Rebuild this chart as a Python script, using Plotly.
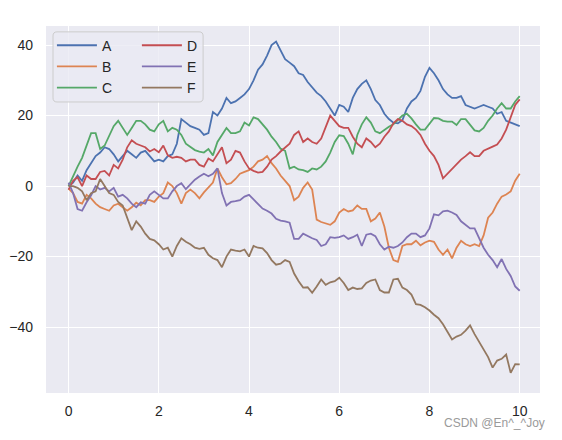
import plotly.graph_objects as go

x = [i / 10 for i in range(101)]

A = [0, 1, 3, 1.5, 4.5, 6.5, 8.5, 9.5, 11, 10.5,
     9, 7, 8.5, 10, 9, 8, 9.5, 10, 8.5, 7,
     7.5, 7, 8.5, 9, 12, 19, 18, 17, 16.5, 16,
     14.5, 15, 21, 20, 22, 25, 23.5, 24, 25, 26,
     27.5, 30, 33, 34.5, 37, 40, 41, 38.5, 36, 35,
     34, 32, 31.5, 29.5, 28, 26.5, 25.5, 24, 22, 20,
     23, 22.5, 21, 25, 27.5, 29, 30, 27.5, 24.4, 23,
     20.5, 19, 18, 17.8, 18.7, 22, 24, 25, 27, 31,
     33.5, 32, 30, 27.5, 26, 25, 25, 25.5, 23, 22.5,
     22, 22.5, 23, 22.5, 22, 20.5, 21, 18.5, 18, 17.5,
     17]
B = [-0.7, -2, -4.5, -5, -2.5, -3.5, -5, -6, -6.5, -7,
     -5.5, -5, -6, -7, -6, -4.7, -5.5, -4, -4, -4.5,
     -3, -2, 1, 0, -2, -5, -2, -1, -2, -3.5,
     -1.8, -0.3, 1, 5, 2.5, 0.5, 0.8, 2, 3.5, 4,
     4.5, 5.5, 7, 7.5, 8.5, 6.5, 5, 3, 1.5, 0,
     -4, -3, -0.5, 1, -1, -9.5, -10.2, -10.5, -11, -10,
     -7.5, -6.5, -7.2, -6.9, -5.5, -6.5, -6.5, -10, -9.2, -7.5,
     -11.5, -17.5, -21, -21.5, -17, -16.5, -16.5, -15.5, -16.8, -16,
     -15.5, -15.8, -18, -19.5, -18, -20.5, -17.5, -15.5, -16.5, -17,
     -16.5, -17, -14, -9, -7.5, -5, -3, -2.4, -1.5, 1.5,
     3.5]
C = [0, 3, 5.5, 8, 11.5, 15, 15, 10.5, 11.5, 14.5,
     17, 18.5, 16.5, 14.5, 16.5, 18.5, 18.5, 17.5, 16, 15.5,
     17.5, 18.5, 15.5, 16.5, 16, 14.5, 12, 11, 10.2, 9.8,
     9.5, 10.5, 8.7, 12.5, 14.4, 16.5, 15, 15, 15.5, 18,
     17.2, 19.5, 19, 17.5, 16, 14, 12.5, 10.6, 10, 5,
     5.5, 4.7, 4.5, 4, 5, 4.7, 5.5, 7, 9.5, 12.5,
     14.4, 14.2, 12, 9, 14.5, 17.5, 19.5, 18, 15.5, 15,
     16, 16.8, 17.5, 18.7, 20, 20.5, 19.2, 17.5, 16, 16,
     17.5, 19.3, 19.2, 18.5, 18.3, 18.3, 17.3, 19, 19, 17.5,
     15.8, 15.5, 16.5, 18.5, 20, 22, 23.5, 22, 22, 24,
     25.5]
D = [-1, 1.5, 2.5, 0, 3, 2, 2, 4, 4.3, 3,
     6, 5, 7.5, 11, 13, 12, 11.5, 11, 9.8, 10.5,
     9.6, 11.5, 8.7, 8, 8.3, 8, 7, 7.5, 7.5, 6,
     5.5, 7.8, 7, 9, 11, 6.5, 7.5, 10, 9.5, 7,
     5, 4.3, 3.8, 4, 5.5, 7.5, 8.5, 9.8, 11, 12,
     14.5, 15.5, 12.5, 13.5, 12.5, 12, 13.5, 16.5, 20, 18.5,
     17, 16.5, 16.5, 14, 12, 11, 13.5, 12.5, 11, 12,
     14, 15.5, 17.8, 19, 18.5, 17.5, 17, 16, 14.5, 12,
     10, 8.5, 6, 2.2, 3.5, 5, 6, 7.5, 8.5, 9.6,
     8.5, 8.5, 10, 10.5, 11.2, 11.8, 13.5, 16, 19.5, 23,
     24.6]
E = [1, -2, -6.5, -7, -4.6, -2.6, 0, -1, -0.5, -1.5,
     -0.5, -3, -2.5, -3.5, -5, -6, -4.6, -5, -2.5, -1.5,
     -2.5, -3.5, -3.5, -1.5, 0, 0.8, -0.9, 0.5, 1.8, 2.7,
     3.5, 2.8, 3.5, 5, -2, -5.5, -4.5, -4.3, -4, -3,
     -2.5, -3.8, -5.2, -6.4, -7, -7.8, -9.3, -9.8, -10, -10.4,
     -15, -15, -13.5, -14.2, -14.8, -15.3, -17, -16.5, -14.5, -14.7,
     -14.5, -14, -15, -14.5, -13.8, -17, -13.8, -13.5, -14.2, -16.5,
     -18, -17.2, -17.5, -17, -16, -14.5, -13.5, -13.5, -14.5, -14,
     -12, -8, -8.3, -7.2, -7, -7.5, -8.2, -10, -11, -12,
     -12, -15, -17.5, -19.5, -21, -23, -20.7, -23.5, -25.5, -28.5,
     -29.7]
F = [0, 0, -0.5, -1.5, -4, -2, -1.5, 2, 0, -2,
     -2.5, -4.5, -5.5, -9, -12.5, -10, -11.5, -13.5, -15, -15.4,
     -16.5, -18, -17.5, -20, -17, -14.8, -15.8, -16.5, -17.5, -17.8,
     -17.5, -19.5, -20.5, -21, -23, -20, -18, -18.3, -18.5, -18,
     -20, -17, -17.5, -17.7, -19, -21, -22.3, -22, -21, -21.5,
     -24.8, -27, -28.8, -28.7, -30.3, -28.5, -26.5, -28, -27.3, -27,
     -26, -27.5, -29.5, -28.8, -29.2, -29, -27.5, -26.8, -26.5, -29.5,
     -30.2, -30.2, -26.5, -26.3, -28.8, -29.5, -30.8, -33.5, -33.7, -34.4,
     -35.3, -36.5, -37.5, -39.2, -41.5, -43.5, -42.7, -42.2, -41, -39.5,
     -42, -44.2, -46, -48.5, -51.5, -49.5, -49, -47.8, -53, -50.5,
     -50.6]

names = ["A", "B", "C", "D", "E", "F"]
series = [A, B, C, D, E, F]
colors = ["#4C72B0", "#DD8452", "#55A868", "#C44E52", "#8172B3", "#937860"]
legends = ["legend", "legend", "legend", "legend2", "legend2", "legend2"]
xticks = [0, 2, 4, 6, 8, 10]
yticks = [-40, -20, 0, 20, 40]

fig = go.Figure()
for n, s, c, lg in zip(names, series, colors, legends):
    fig.add_trace(go.Scatter(x=x, y=s, name=n, mode="lines",
                             line=dict(color=c, width=1.8), legend=lg))

FONT = "Liberation Sans, Arial, sans-serif"
leg_common = dict(bgcolor="rgba(0,0,0,0)", borderwidth=0, xanchor="left", yanchor="top",
                  font=dict(family=FONT, size=14, color="#262626"), tracegroupgap=0,
                  itemwidth=40)

# rounded legend frame (paper coords of plot area)
x0, x1, y0, y1 = 0.0142, 0.318, 0.793, 0.984
rx, ry = 0.008, 0.011
path = (f"M{x0+rx},{y0} L{x1-rx},{y0} Q{x1},{y0} {x1},{y0+ry} L{x1},{y1-ry} "
        f"Q{x1},{y1} {x1-rx},{y1} L{x0+rx},{y1} Q{x0},{y1} {x0},{y1-ry} "
        f"L{x0},{y0+ry} Q{x0},{y0} {x0+rx},{y0} Z")

fig.update_layout(
    width=554, height=432,
    margin=dict(l=38, r=22, t=18, b=47, autoexpand=False),
    paper_bgcolor="white", plot_bgcolor="#EAEAF2",
    font=dict(family=FONT, size=14, color="#262626"),
    showlegend=True,
    legend=dict(x=0.012, y=0.99, **leg_common),
    legend2=dict(x=0.184, y=0.99, **leg_common),
    shapes=[dict(type="path", xref="paper", yref="paper", path=path,
                 line=dict(color="#CCCCCC", width=1),
                 fillcolor="rgba(234,234,242,0.8)", layer="above")],
    annotations=[dict(text="CSDN @En^_^Joy", xref="paper", yref="paper",
                      x=1.014, y=-0.082, xanchor="right", yanchor="middle",
                      showarrow=False, font=dict(family=FONT, size=12, color="#9a9a9a"))],
)
fig.update_xaxes(range=[-0.5, 10.45], tickvals=xticks, showgrid=True, gridcolor="white",
                 gridwidth=1.2, zeroline=False, showline=False, ticks="", automargin=False,
                 ticklabelstandoff=8, tickfont=dict(size=14, color="#262626"))
fig.update_yaxes(range=[-58.7, 45.4], tickvals=yticks, showgrid=True, gridcolor="white",
                 gridwidth=1.2, zeroline=False, showline=False, ticks="", automargin=False,
                 ticklabelstandoff=12, tickfont=dict(size=14, color="#262626"))

fig.write_html("out.html")
